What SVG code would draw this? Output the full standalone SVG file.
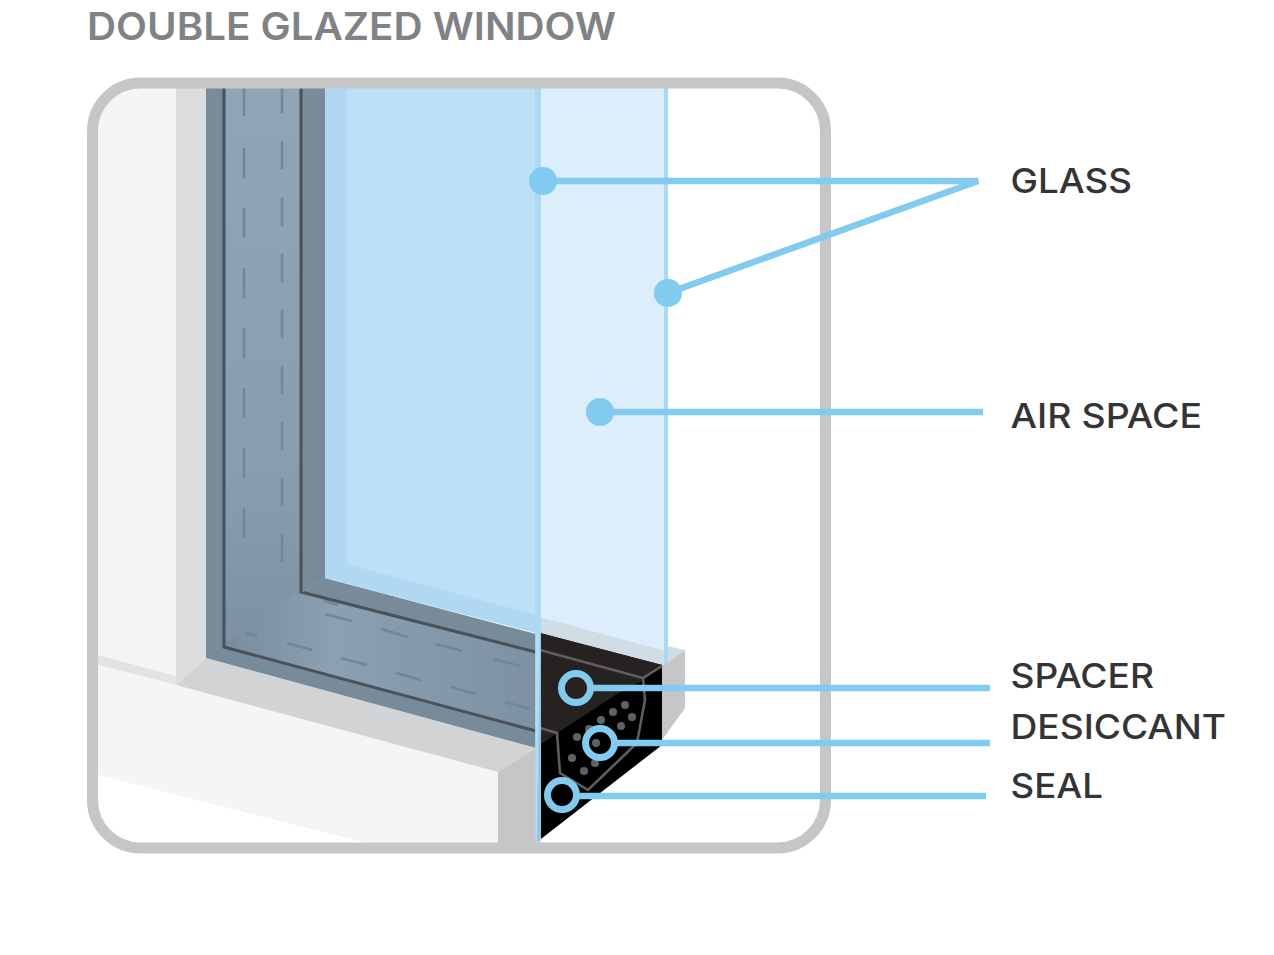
<svg xmlns="http://www.w3.org/2000/svg" width="1274" height="955" viewBox="0 0 1274 955">
<style>
.lbl{font-family:Inter,"Liberation Sans",sans-serif;font-size:34px;font-weight:500;fill:#343436}
.ttl{font-family:Inter,"Liberation Sans",sans-serif;font-size:38px;font-weight:600;fill:#808285}
.ln{fill:none;stroke:#82cbf0;stroke-width:6.5}
.dot{fill:#82cbf0}
.ring{fill:none;stroke:#82cbf0;stroke-width:7}
.ind{fill:none;stroke:#4b5158;stroke-width:3}
.dash{fill:none;stroke:#6f8699;stroke-width:2.5}
.seal{fill:none;stroke:#5f5f5f;stroke-width:2.5}
.sd{fill:#5d6265}
.soft{filter:url(#soft)}
</style>
<defs>
<filter id="soft" x="0" y="0" width="1" height="1"><feGaussianBlur stdDeviation="0.6"/></filter>
<linearGradient id="wall" x1="0" y1="0" x2="0" y2="1"><stop offset="0" stop-color="#90a6b6"/><stop offset="0.6" stop-color="#889eaf"/><stop offset="1" stop-color="#768a9a"/></linearGradient>
<linearGradient id="floor" x1="0" y1="0" x2="1" y2="0"><stop offset="0" stop-color="#788c9c"/><stop offset="0.35" stop-color="#8aa1b2"/><stop offset="1" stop-color="#7d91a2"/></linearGradient>
</defs>
<rect width="1274" height="955" fill="#fff"/>
<text class="ttl" x="87" y="40" textLength="529" lengthAdjust="spacingAndGlyphs">DOUBLE GLAZED WINDOW</text>
<g id="window" class="soft">
<path d="M98 131Q98 88 141 88H176V677L98 655Z" fill="#f5f5f5"/>
<path d="M98 655L176 676V685L98 665Z" fill="#e3e3e4"/>
<path d="M176 88H206V658L176 685Z" fill="#dcdcde"/>
<path d="M98 665L176 685L498 772V843H367L98 775Z" fill="#f5f5f5"/>
<path d="M176 685L206 658L536 748L498 772Z" fill="#d2d3d4"/>
<path d="M498 772L536 748V843H498Z" fill="#c6c6c6"/>
<path d="M206 88H325V578L536 634V748L206 658Z" fill="#788b9b"/>
<path d="M224 88H302V592L536 650V730L223 646Z" fill="url(#wall)"/>
<path d="M293 593L302 592L536 650V730L223 646Z" fill="url(#floor)"/>
<path d="M301 88V592L536 652M224 88V647L536 731" class="ind"/>
<path d="M302 592L325 578" stroke="#84989f" stroke-width="1" fill="none"/>
<path d="M244 88V116M244 148V178M244 208V238M244 268V298M244 328V358M244 388V418M244 448V478M244 508V538M282 88V113M282 141V169M282 198V226M282 254V282M282 310V338M282 366V394M282 422V450M282 478V506M282 534V562" class="dash"/>
<path d="M324 601L338 605M246 633L257 636M287 643L312 650M341 658L367 665M396 673L421 680M451 687L476 694M505 702L530 709M325 614L352 621M381 629L408 637M436 644L462 651M494 659L520 666" class="dash"/>
<path d="M325 88H540V634L325 578Z" fill="#bde0f6"/>
<path d="M325 88H347V564L540 616V634L325 578Z" fill="#b1d8f3"/>
</g>
<g id="spacer" class="soft">
<path d="M540 617L685 650L662 666L540 633Z" fill="#d0dde5"/>
<path d="M662 666L685 650V708L662 740Z" fill="#c6c6c6"/>
<path d="M540 88H665V651L540 617Z" fill="#dcedfb"/>
<path d="M540 633L662 665V745L537 842Z" fill="#060606"/>
<path d="M540 633L662 665L644 680L623 690L557 733L540 745Z" fill="#252223"/>
<path d="M540 650L643 678L645 700L637 743L588 790L560 773L557 733L540 728M643 678L662 666" class="seal"/>
<g class="sd">
<circle cx="625" cy="705" r="4"/><circle cx="613" cy="712" r="4"/><circle cx="632" cy="717" r="4"/><circle cx="601" cy="720" r="4"/><circle cx="621" cy="726" r="4"/><circle cx="589" cy="729" r="4"/><circle cx="577" cy="737" r="4"/><circle cx="596" cy="743" r="4"/><circle cx="572" cy="758" r="4"/><circle cx="595" cy="763" r="4"/><circle cx="584" cy="771" r="4"/>
</g>
<rect x="535" y="88" width="6" height="755" fill="#a9d9f5" opacity="0.9"/>
<rect x="664" y="88" width="4" height="577" fill="#a9d9f5"/>
</g>
<g id="frame"><rect x="92.500" y="83" width="733" height="765" rx="48" fill="none" stroke="#c6c6c6" stroke-width="11"/></g>
<g id="connectors">
<path class="ln" d="M543 181H978L668 293M600 412H983M592 688H990M616 743H990M578 796H986"/>
<circle class="dot" cx="543" cy="181" r="14"/><circle class="dot" cx="668" cy="293" r="14"/><circle class="dot" cx="600" cy="412" r="14"/>
<circle class="ring" cx="576" cy="688" r="14.500"/><circle class="ring" cx="600" cy="743" r="14.500"/><circle class="ring" cx="562" cy="795" r="14.500"/>
</g>
<g id="label-glass"><text class="lbl" x="1010.500" y="193" textLength="121.500" lengthAdjust="spacingAndGlyphs">GLASS</text></g>
<g id="label-air-space"><text class="lbl" x="1010.500" y="428" textLength="191.500" lengthAdjust="spacingAndGlyphs">AIR SPACE</text></g>
<g id="label-spacer"><text class="lbl" x="1010.500" y="688" textLength="143.500" lengthAdjust="spacingAndGlyphs">SPACER</text></g>
<g id="label-desiccant"><text class="lbl" x="1010.500" y="739" textLength="215.500" lengthAdjust="spacingAndGlyphs">DESICCANT</text></g>
<g id="label-seal"><text class="lbl" x="1010.500" y="798" textLength="92.500" lengthAdjust="spacingAndGlyphs">SEAL</text></g>
</svg>
